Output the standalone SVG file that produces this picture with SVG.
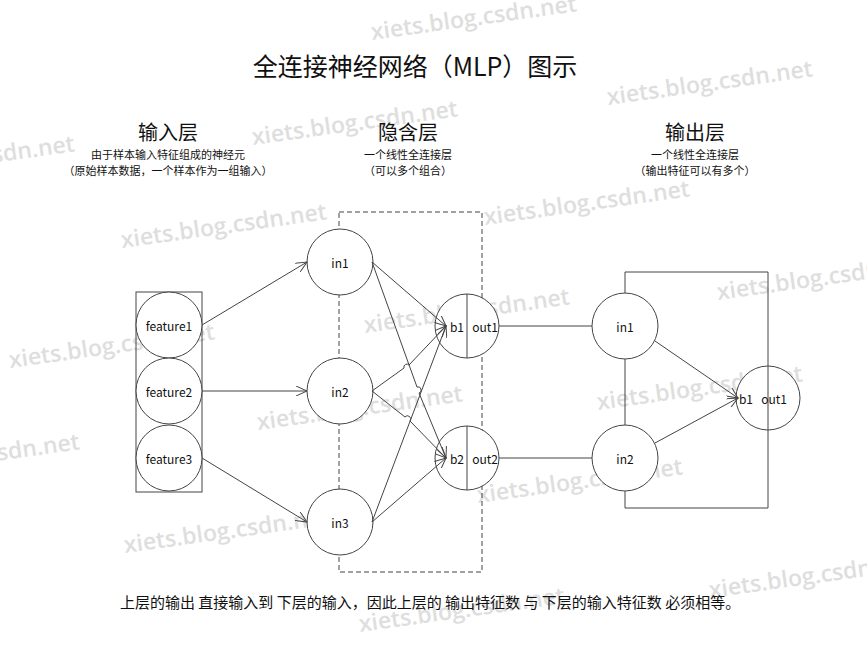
<svg xmlns="http://www.w3.org/2000/svg" width="867" height="650" viewBox="0 0 867 650">
<style>
text{font-family:"Noto Sans CJK SC","Noto Sans",sans-serif;fill:#111}
.n{fill:#fff;stroke:#444;stroke-width:1}
.l{font-size:12px;text-anchor:middle;dominant-baseline:central}
.e{stroke:#444;stroke-width:1;fill:none}
text.wm{font-family:"Open Sans",sans-serif;font-size:23px;font-weight:600;fill:#dedede}
</style>
<defs><marker id="a" markerWidth="12" markerHeight="10" refX="11" refY="5" orient="auto" markerUnits="userSpaceOnUse"><path d="M0,0 L11,5 L0,10" fill="none" stroke="#444"/></marker></defs>
<rect width="867" height="650" fill="#fff"/>
<g id="watermarks">
<text class="wm" transform="translate(372,40) rotate(-8)">xiets.blog.csdn.net</text>
<text class="wm" transform="translate(608,105) rotate(-8)">xiets.blog.csdn.net</text>
<text class="wm" transform="translate(253,145) rotate(-8)">xiets.blog.csdn.net</text>
<text class="wm" transform="translate(-130,180) rotate(-8)">xiets.blog.csdn.net</text>
<text class="wm" transform="translate(485,225) rotate(-8)">xiets.blog.csdn.net</text>
<text class="wm" transform="translate(122,248) rotate(-8)">xiets.blog.csdn.net</text>
<text class="wm" transform="translate(718,300) rotate(-8)">xiets.blog.csdn.net</text>
<text class="wm" transform="translate(365,333) rotate(-8)">xiets.blog.csdn.net</text>
<text class="wm" transform="translate(10,368) rotate(-8)">xiets.blog.csdn.net</text>
<text class="wm" transform="translate(598,410) rotate(-8)">xiets.blog.csdn.net</text>
<text class="wm" transform="translate(258,430) rotate(-8)">xiets.blog.csdn.net</text>
<text class="wm" transform="translate(-125,478) rotate(-8)">xiets.blog.csdn.net</text>
<text class="wm" transform="translate(478,503) rotate(-8)">xiets.blog.csdn.net</text>
<text class="wm" transform="translate(125,553) rotate(-8)">xiets.blog.csdn.net</text>
<text class="wm" transform="translate(710,598) rotate(-8)">xiets.blog.csdn.net</text>
<text class="wm" transform="translate(360,632) rotate(-8)">xiets.blog.csdn.net</text>
</g>
<text x="415" y="76" font-size="25" text-anchor="middle">全连接神经网络（MLP）图示</text>
<g font-size="20" text-anchor="middle"><text x="168" y="140">输入层</text><text x="408" y="140">隐含层</text><text x="695" y="140">输出层</text></g>
<g font-size="11" text-anchor="middle"><text x="168" y="159">由于样本输入特征组成的神经元</text><text x="168" y="175">（原始样本数据，一个样本作为一组输入）</text>
<text x="408" y="159">一个线性全连接层</text><text x="408" y="175">（可以多个组合）</text>
<text x="695" y="159">一个线性全连接层</text><text x="695" y="175">（输出特征可以有多个）</text></g>
<g id="frames" fill="none">
<rect x="136" y="292" width="66" height="200" stroke="#444"/>
<rect x="339" y="212" width="143" height="360" stroke="#444" stroke-dasharray="5,3"/>
<path d="M625,508 V272 H768 V366 M768,430 V508 H625" stroke="#444"/>
</g>
<g id="feature1"><circle class="n" cx="169" cy="325" r="33"/><text class="l" x="169" y="325">feature1</text></g>
<g id="feature2"><circle class="n" cx="169" cy="391" r="33"/><text class="l" x="169" y="391">feature2</text></g>
<g id="feature3"><circle class="n" cx="169" cy="458" r="33"/><text class="l" x="169" y="458">feature3</text></g>
<g id="h_in1"><circle class="n" cx="340" cy="262" r="33"/><text class="l" x="340" y="262">in1</text></g>
<g id="h_in2"><circle class="n" cx="340" cy="391" r="33"/><text class="l" x="340" y="391">in2</text></g>
<g id="h_in3"><circle class="n" cx="340" cy="522" r="33"/><text class="l" x="340" y="522">in3</text></g>
<g id="h_out1"><circle class="n" cx="467" cy="326" r="32"/><line class="e" x1="467" y1="294" x2="467" y2="358"/><text class="l" x="457" y="326">b1</text><text class="l" x="485" y="326">out1</text></g>
<g id="h_out2"><circle class="n" cx="467" cy="458" r="32"/><line class="e" x1="467" y1="426" x2="467" y2="490"/><text class="l" x="457" y="458">b2</text><text class="l" x="485" y="458">out2</text></g>
<g id="o_in1"><circle class="n" cx="625" cy="326" r="33"/><text class="l" x="625" y="326">in1</text></g>
<g id="o_in2"><circle class="n" cx="625" cy="458" r="33"/><text class="l" x="625" y="458">in2</text></g>
<g id="o_out1"><circle class="n" cx="768" cy="398" r="32"/><line class="e" x1="768" y1="366" x2="768" y2="430"/><text class="l" x="746" y="398">b1</text><text class="l" x="774" y="398">out1</text></g>
<g id="connectors">
<line class="e" x1="202" y1="325" x2="307" y2="262" marker-end="url(#a)"/>
<line class="e" x1="202" y1="391" x2="307" y2="391" marker-end="url(#a)"/>
<line class="e" x1="202" y1="458" x2="307" y2="522" marker-end="url(#a)"/>
<line class="e" x1="372" y1="262" x2="446" y2="326" marker-end="url(#a)"/>
<path class="e" d="M372,262 L417,387 a3,3 0 0 1 2,6 L446,458" marker-end="url(#a)"/>
<path class="e" d="M372,391 L404,368 a3,3 0 0 1 5,-3 L446,326" marker-end="url(#a)"/>
<path class="e" d="M372,391 L405,417 a3,3 0 0 1 5,4 L446,458" marker-end="url(#a)"/>
<line class="e" x1="372" y1="522" x2="446" y2="326" marker-end="url(#a)"/>
<line class="e" x1="372" y1="522" x2="446" y2="458" marker-end="url(#a)"/>
<line class="e" x1="499" y1="326" x2="592" y2="326"/>
<line class="e" x1="499" y1="458" x2="592" y2="458"/>
<line class="e" x1="655" y1="341" x2="738" y2="398" marker-end="url(#a)"/>
<line class="e" x1="655" y1="443" x2="738" y2="398" marker-end="url(#a)"/>
</g>
<text x="120" y="608" font-size="15">上层的输出 直接输入到 下层的输入，因此上层的 输出特征数 与 下层的输入特征数 必须相等。</text>
</svg>
